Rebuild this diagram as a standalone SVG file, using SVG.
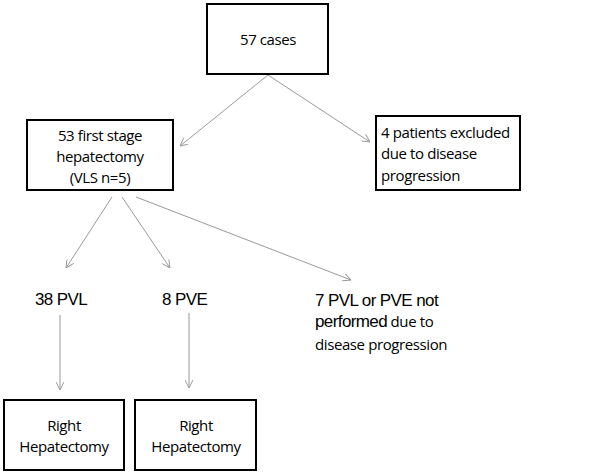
<svg xmlns="http://www.w3.org/2000/svg" width="600" height="473" viewBox="0 0 600 473">
<style>
rect{fill:#fff;stroke:#000;stroke-width:2}
text{font-family:"Open Sans","Liberation Sans",sans-serif;font-size:15px;fill:#000;letter-spacing:-0.4px}
.c{text-anchor:middle}
.a{font-family:"Liberation Sans",Arial,sans-serif;font-size:17px;letter-spacing:-0.6px}
line{stroke:#999;stroke-width:1}
</style>
<defs><marker id="m" viewBox="0 0 10 10" refX="10" refY="5" markerWidth="8" markerHeight="8" orient="auto"><path d="M0,0L10,5L0,10" fill="none" stroke="#999" stroke-width="1.2"/></marker></defs>
<rect width="600" height="473" style="stroke:none"/>
<g id="connectors">
<line x1="268" y1="75" x2="180" y2="146" marker-end="url(#m)"/>
<line x1="268" y1="75" x2="370" y2="142" marker-end="url(#m)"/>
<line x1="112" y1="197" x2="66" y2="268" marker-end="url(#m)"/>
<line x1="122" y1="197" x2="170" y2="268" marker-end="url(#m)"/>
<line x1="136" y1="197" x2="351" y2="280" marker-end="url(#m)"/>
<line x1="60" y1="315" x2="60" y2="390" marker-end="url(#m)"/>
<line x1="189" y1="313" x2="189" y2="388" marker-end="url(#m)"/>
</g>
<g id="n57"><rect x="207" y="4" width="121" height="70"/><text class="c" x="268" y="45">57 cases</text></g>
<g id="n53"><rect x="27" y="120" width="146" height="70"/><text class="c" x="100" y="141">53 first stage</text><text class="c" x="100" y="162">hepatectomy</text><text class="c" x="100" y="183">(VLS n=5)</text></g>
<g id="n4"><rect x="376" y="116" width="144" height="74"/><text x="381" y="138">4 patients excluded</text><text x="381" y="159">due to disease</text><text x="381" y="181">progression</text></g>
<g id="pvl"><text class="a" x="35" y="305">38 PVL</text></g>
<g id="pve"><text class="a" x="162" y="305">8 PVE</text></g>
<g id="n7"><text class="a" x="315" y="306">7 PVL or PVE not</text><text x="315" y="327"><tspan class="a">performed</tspan> due to</text><text x="315" y="350">disease progression</text></g>
<g id="rh1"><rect x="4" y="400" width="120" height="70"/><text class="c" x="64" y="431">Right</text><text class="c" x="64" y="452">Hepatectomy</text></g>
<g id="rh2"><rect x="135" y="400" width="121" height="70"/><text class="c" x="196" y="431">Right</text><text class="c" x="196" y="452">Hepatectomy</text></g>
</svg>
